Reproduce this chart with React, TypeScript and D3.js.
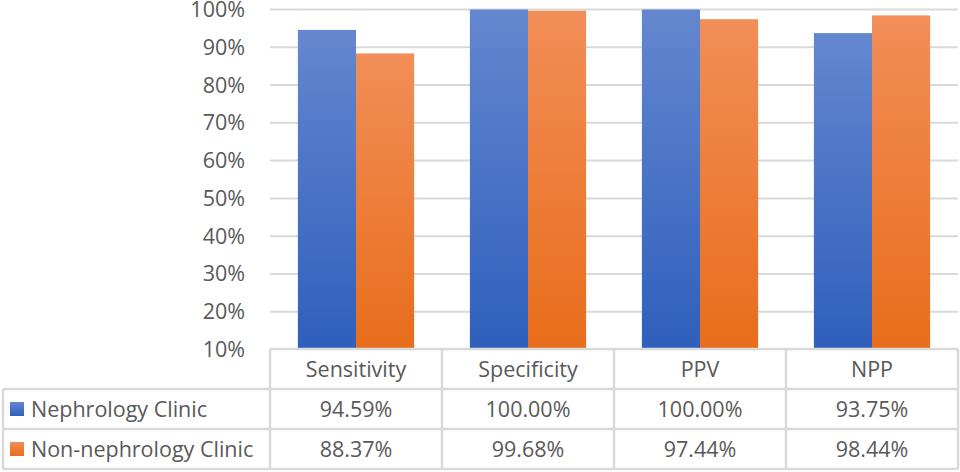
import React from "react";
import * as d3 from "d3";

const categories = ["Sensitivity", "Specificity", "PPV", "NPP"];
const seriesNames = ["Nephrology Clinic", "Non-nephrology Clinic"];
const nephrology = [0.9459, 1.0, 1.0, 0.9375];
const nonNephrology = [0.8837, 0.9968, 0.9744, 0.9844];
const yTicks = [0.1, 0.2, 0.3, 0.4, 0.5, 0.6, 0.7, 0.8, 0.9, 1.0];

const W = 960;
const H = 472;
const plotLeft = 270;
const plotRight = 958;
const plotTop = 9.5;
const plotBottom = 349.5;
const rowH = 40;
const tableLeft = 3;
const FONT = "'Open Sans', 'Noto Sans', sans-serif";
const FS = 21.5;
const gridColor = "#d9d9d9";

export default function App() {
  const x = d3.scaleBand<string>().domain(categories).range([plotLeft, plotRight]).paddingInner(0).paddingOuter(0);
  const y = d3.scaleLinear().domain([0.1, 1]).range([plotBottom, plotTop]);
  const bw = x.bandwidth();
  const inner = d3.scaleBand<number>().domain([0, 1]).range([0, bw]).paddingOuter(0.48).paddingInner(0);
  const series = [nephrology, nonNephrology];
  const grads = ["gBlue", "gOrange"];
  const fmt = d3.format(".2%");
  const tickFmt = d3.format(".0%");
  const rowTops = [plotBottom - 0.5, plotBottom - 0.5 + rowH, plotBottom - 0.5 + 2 * rowH];
  const tableBottom = plotBottom - 0.5 + 3 * rowH;
  const colEdges = [...categories.map((c) => x(c) as number), plotRight];

  return (
    <svg width={W} height={H} style={{ position: "absolute", left: 0, top: 0, background: "#fff" }}>
      <defs>
        <linearGradient id="gBlue" x1="0" y1="0" x2="0" y2="1">
          <stop offset="0" stopColor="#6487cf" />
          <stop offset="1" stopColor="#2f5fbc" />
        </linearGradient>
        <linearGradient id="gOrange" x1="0" y1="0" x2="0" y2="1">
          <stop offset="0" stopColor="#f28e58" />
          <stop offset="1" stopColor="#e86d1b" />
        </linearGradient>
      </defs>
      {yTicks.map((t) => (
        <g key={t}>
          {t > 0.1 && (
            <line x1={plotLeft} x2={plotRight} y1={y(t)} y2={y(t)} stroke={gridColor} strokeWidth={2} />
          )}
          <text x={245} y={y(t)} dy="0.35em" textAnchor="end" fontFamily={FONT} fontSize={FS} fill="#595959">
            {tickFmt(t)}
          </text>
        </g>
      ))}
      {categories.map((c, i) => (
        <g key={c}>
          {series.map((s, k) => (
            <rect
              key={k}
              x={(x(c) as number) + (inner(k) as number)}
              y={y(s[i])}
              width={inner.bandwidth()}
              height={plotBottom - y(s[i])}
              fill={`url(#${grads[k]})`}
            />
          ))}
        </g>
      ))}
      <line x1={plotLeft} x2={plotRight} y1={rowTops[0]} y2={rowTops[0]} stroke={gridColor} strokeWidth={2.5} />
      {[rowTops[1], rowTops[2], tableBottom].map((yy, i) => (
        <line key={i} x1={tableLeft} x2={plotRight} y1={yy} y2={yy} stroke={gridColor} strokeWidth={2.5} />
      ))}
      <line x1={tableLeft} x2={tableLeft} y1={rowTops[1]} y2={tableBottom} stroke={gridColor} strokeWidth={2.5} />
      {colEdges.map((xx, i) => (
        <line key={i} x1={xx} x2={xx} y1={rowTops[0]} y2={tableBottom} stroke={gridColor} strokeWidth={2.5} />
      ))}
      {categories.map((c) => (
        <text
          key={c}
          x={(x(c) as number) + bw / 2}
          y={rowTops[0] + rowH / 2}
          dy="0.35em"
          textAnchor="middle"
          fontFamily={FONT}
          fontSize={FS}
          fill="#595959"
        >
          {c}
        </text>
      ))}
      {series.map((s, k) => (
        <g key={k}>
          <rect x={10} y={rowTops[k + 1] + 13} width={14} height={14} fill={`url(#${grads[k]})`} />
          <text x={31} y={rowTops[k + 1] + rowH / 2} dy="0.35em" fontFamily={FONT} fontSize={FS} fill="#595959">
            {seriesNames[k]}
          </text>
          {categories.map((c, i) => (
            <text
              key={c}
              x={(x(c) as number) + bw / 2}
              y={rowTops[k + 1] + rowH / 2}
              dy="0.35em"
              textAnchor="middle"
              fontFamily={FONT}
              fontSize={FS}
              fill="#595959"
            >
              {fmt(s[i])}
            </text>
          ))}
        </g>
      ))}
    </svg>
  );
}
